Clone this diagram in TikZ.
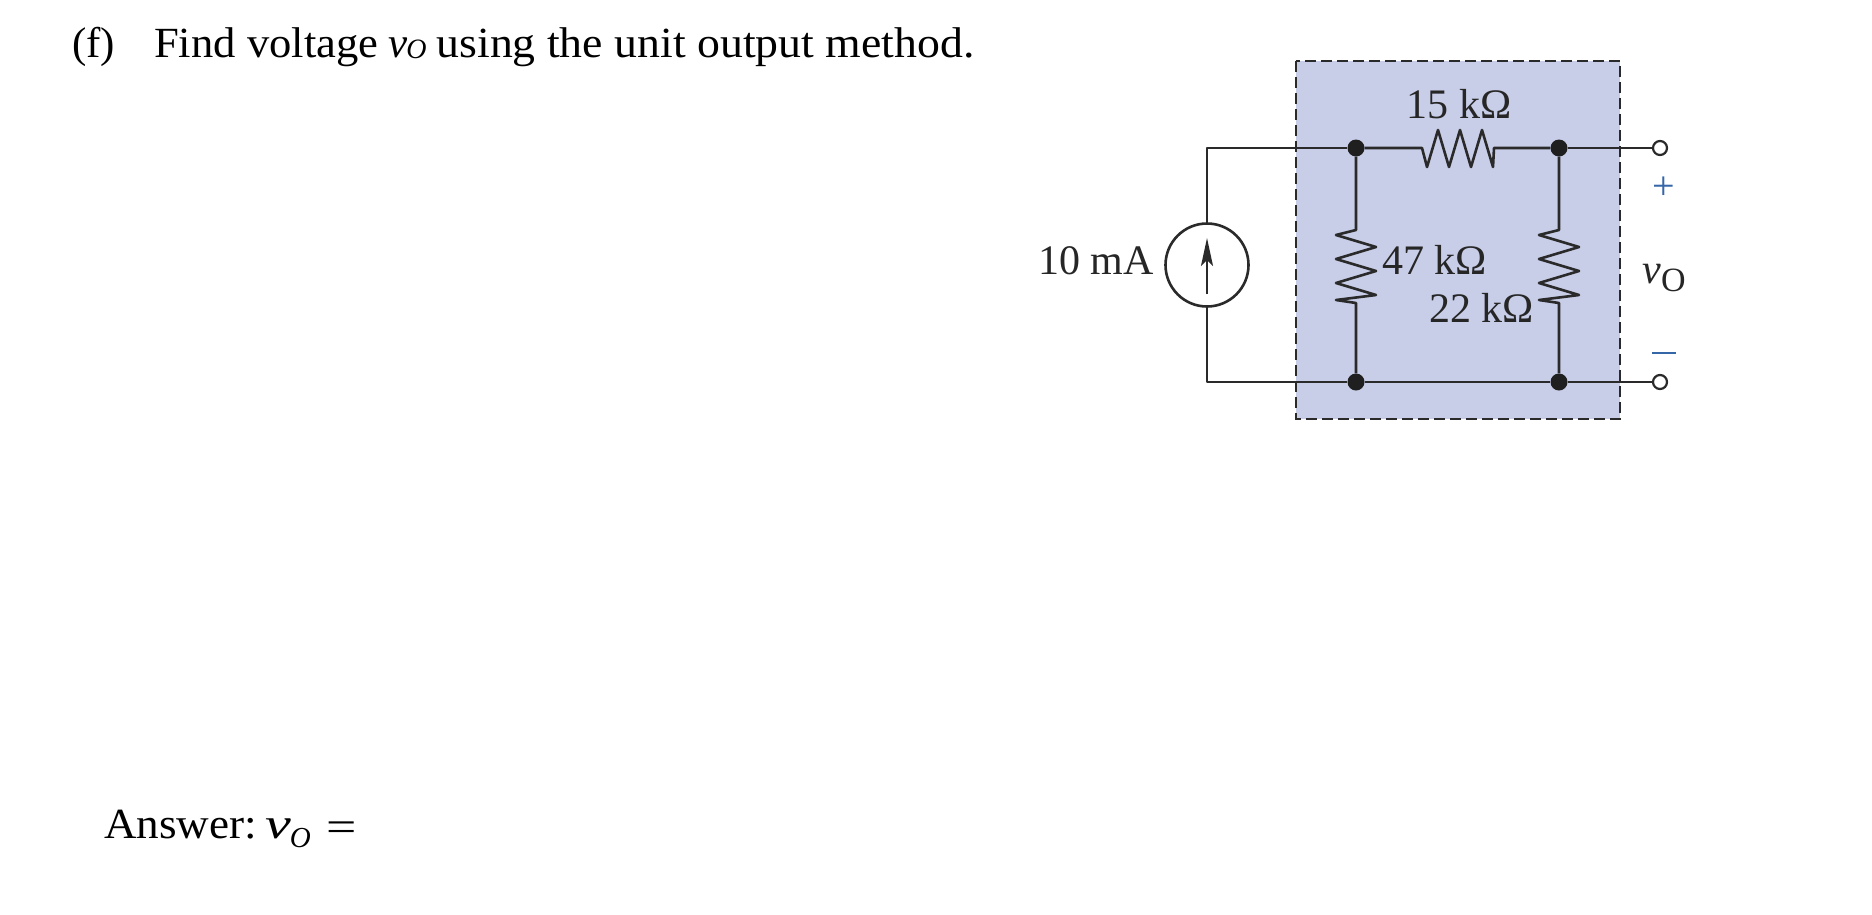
\documentclass[tikz,border=0pt]{standalone}
\usepackage{fontspec}
\setmainfont{Liberation Serif}
\usetikzlibrary{arrows.meta}
\definecolor{boxblue}{HTML}{C8CDE8}
\definecolor{wire}{HTML}{2A2A2A}
\definecolor{signblue}{HTML}{3566A8}
\tikzset{
  wireline/.style={draw=wire,line width=2.6pt,line join=round},
  junction/.style={circle,fill=black!88,draw=none,minimum size=17pt,inner sep=0pt},
  terminal/.style={circle,draw=wire,fill=white,line width=2.2pt,minimum size=14pt,inner sep=0pt},
  source/.style={circle,draw=wire,fill=white,line width=2.6pt,minimum size=83pt,inner sep=0pt},
  circlabel/.style={inner sep=0pt,anchor=base,text=black!85,font=\fontsize{42}{48}\selectfont},
  qtext/.style={inner sep=0pt,anchor=base west,text=black,font=\fontsize{43}{50}\selectfont},
}
\begin{document}
\begin{tikzpicture}[x=1pt,y=-1pt]
\useasboundingbox (0,0) rectangle (1872,914);
\fill[white] (0,0) rectangle (1872,914);
% question text
\node[qtext] (label) at (72,57) {(f)};
\node[qtext] (question) at (154,57) {\scalebox{1.037}[1]{Find voltage}\kern10pt\textit{v\kern-1pt\raisebox{-.04em}{\fontsize{28}{28}\selectfont O}}\kern10pt\scalebox{1.0645}[1]{using the unit output method.}};
\node[qtext] (answer) at (104,838) {\scalebox{1.05}[1]{Answer:}\kern8pt\scalebox{1.35}[1]{\textit{v}}\kern-1pt\raisebox{-.22em}{\fontsize{29}{29}\selectfont\textit{O}}\kern16pt\raisebox{-3.5pt}{\scalebox{1.25}[1]{=}}};
% shaded box
\draw[fill=boxblue,draw=wire,line width=2.8pt,dash pattern=on 11pt off 5pt] (1296,61) rectangle (1620,419);
% fixed points
\coordinate (tl) at (1207,148);
\coordinate (bl) at (1207,382);
\node[source] (src) at (1207,265) {};
\node[junction] (j1) at (1356,148) {};
\node[junction] (j2) at (1559,148) {};
\node[junction] (j3) at (1356,382) {};
\node[junction] (j4) at (1559,382) {};
\node[terminal] (t1) at (1660,148) {};
\node[terminal] (t2) at (1660,382) {};
\coordinate (ra) at (1422,148);
\coordinate (rb) at (1494,148);
\coordinate (la) at (1356,230);
\coordinate (lb) at (1356,303);
\coordinate (ma) at (1559,230);
\coordinate (mb) at (1559,303);
% wires
\draw[wireline] (src.north) -- (tl) -- (j1);
\draw[wireline] (src.south) -- (bl) -- (j3);
\draw[wireline] (j3) -- (j4);
\draw[wireline] (j4) -- (t2);
\draw[wireline] (j2) -- (t1);
\draw[wireline] (j1) -- (ra)
  -- ++(5,19) -- ++(11,-37) -- ++(11,37) -- ++(11,-37) -- ++(11,37) -- ++(11,-37) -- ++(11,37) -- (rb) -- (j2);
\draw[wireline] (j1) -- (la)
  -- ++(-20,5) -- ++(40,12) -- ++(-40,12) -- ++(40,12) -- ++(-40,12) -- ++(40,12) -- ++(-40,5) -- (lb) -- (j3);
\draw[wireline] (j2) -- (ma)
  -- ++(-20,5) -- ++(40,12) -- ++(-40,12) -- ++(40,12) -- ++(-40,12) -- ++(40,12) -- ++(-40,5) -- (mb) -- (j4);
% source arrow
\coordinate (arrowtail) at (1207,294);
\coordinate (arrowhead) at (1207,238);
\draw[draw=wire,line width=2.3pt,-{Stealth[length=28pt,width=12pt,inset=6pt]}] (arrowtail) -- (arrowhead);
% labels
\node[circlabel] (r1) at (1459,118) {15 kΩ};
\node[circlabel,anchor=base west] (r2) at (1382,274) {47 kΩ};
\node[circlabel,anchor=base east] (r3) at (1534,322) {22 kΩ};
\node[circlabel,anchor=base east] (isrc) at (1154,274) {10 mA};
\node[circlabel] (vo) at (1664,283) {\textit{v}\raisebox{-.2em}{\fontsize{34}{34}\selectfont O}};
\node[inner sep=0pt,text=signblue,font=\fontsize{40}{44}\selectfont] (plus) at (1664,188) {+};
\node[inner sep=0pt,text=signblue] (minus) at (1664,353) {\rule{24pt}{2.2pt}};
\end{tikzpicture}
\end{document}
